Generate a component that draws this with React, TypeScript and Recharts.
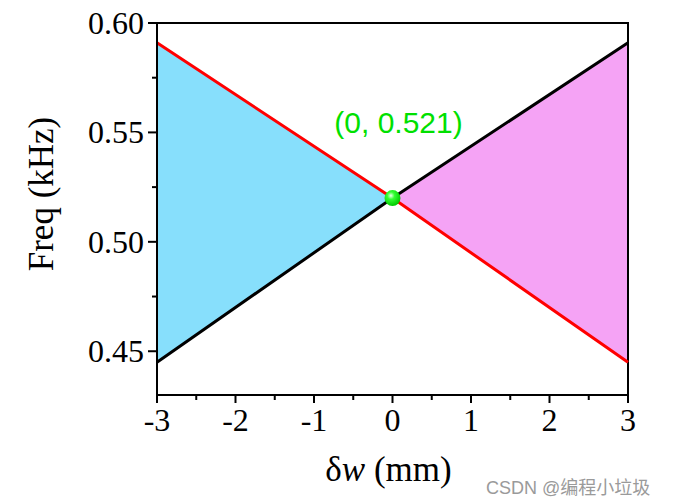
import * as React from "react";
import {
  Area,
  ComposedChart,
  Label,
  Line,
  ReferenceArea,
  ReferenceDot,
  XAxis,
  YAxis,
} from "recharts";

// Sampled off the figure: detuning δw (mm) and the two band frequencies (kHz).
const DW = [-3, 0, 3];
const RED_BAND = [0.591, 0.52, 0.445];
const BLACK_BAND = [0.445, 0.52, 0.591];
const X_TICKS = [-3, -2.5, -2, -1.5, -1, -0.5, 0, 0.5, 1, 1.5, 2, 2.5, 3];
const Y_TICKS = [0.45, 0.475, 0.5, 0.525, 0.55, 0.575, 0.6];
const DIRAC_X = 0;
const DIRAC_Y = 0.52;
const DIRAC_LABEL = "(0, 0.521)";

const data = DW.map((x, i) => ({
  x,
  red: RED_BAND[i],
  black: BLACK_BAND[i],
  blue: x <= 0 ? [BLACK_BAND[i], RED_BAND[i]] : null,
  pink: x >= 0 ? [RED_BAND[i], BLACK_BAND[i]] : null,
}));

const SERIF = "'Liberation Serif', 'Times New Roman', serif";
const SANS = "'Liberation Sans', Arial, sans-serif";

const isWhole = (v: number, step: number) => Math.abs(v / step - Math.round(v / step)) < 1e-6;

function YTick(props: any) {
  const { x, y, payload } = props;
  const major = isWhole(payload.value, 0.05);
  return (
    <g>
      <line x1={x - (major ? 9 : 5)} x2={x} y1={y} y2={y} stroke="#000" strokeWidth={2} />
      {major && (
        <text x={x - 13} y={y} dy={11} textAnchor="end" fontFamily={SERIF} fontSize={32} fill="#000">
          {payload.value.toFixed(2)}
        </text>
      )}
    </g>
  );
}

function XTick(props: any) {
  const { x, y, payload } = props;
  const major = isWhole(payload.value, 1);
  return (
    <g>
      <line x1={x} x2={x} y1={y} y2={y + (major ? 8 : 5)} stroke="#000" strokeWidth={2} />
      {major && (
        <text x={x} y={y + 36} textAnchor="middle" fontFamily={SERIF} fontSize={32} fill="#000">
          {String(payload.value)}
        </text>
      )}
    </g>
  );
}

function DiracDot(props: any) {
  const { cx, cy } = props;
  return (
    <g>
      <defs>
        <radialGradient id="dirac-fill" cx="40%" cy="35%" r="65%">
          <stop offset="0%" stopColor="#eaffea" />
          <stop offset="35%" stopColor="#33ff33" />
          <stop offset="100%" stopColor="#00c800" />
        </radialGradient>
      </defs>
      <circle cx={cx} cy={cy} r={8} fill="url(#dirac-fill)" />
    </g>
  );
}

export default function App() {
  return (
    <div style={{ position: "absolute", left: 0, top: 0, width: 673, height: 504, background: "#fff" }}>
      <ComposedChart
        width={673}
        height={504}
        data={data}
        margin={{ top: 23, right: 45, bottom: 69, left: 97 }}
      >
        <XAxis
          dataKey="x"
          type="number"
          domain={[-3, 3]}
          ticks={X_TICKS}
          interval={0}
          tickSize={0}
          tickMargin={0}
          tickLine={false}
          tick={<XTick />}
          height={40}
          axisLine={{ stroke: "#000", strokeWidth: 2 }}
        >
          <Label
            content={(p: any) => {
              const vb = p.viewBox;
              return (
                <text
                  x={vb.x + vb.width / 2 - 4}
                  y={vb.y + 86}
                  textAnchor="middle"
                  fontFamily={SERIF}
                  fontSize={35}
                  fill="#000"
                >
                  <tspan>δ</tspan>
                  <tspan fontStyle="italic">w</tspan>
                  <tspan> (mm)</tspan>
                </text>
              );
            }}
          />
        </XAxis>
        <YAxis
          type="number"
          domain={[0.43, 0.6]}
          ticks={Y_TICKS}
          interval={0}
          tickSize={0}
          tickMargin={0}
          tickLine={false}
          tick={<YTick />}
          width={60}
          axisLine={{ stroke: "#000", strokeWidth: 2 }}
        >
          <Label
            content={(p: any) => {
              const vb = p.viewBox;
              const cx = vb.x - 44;
              const cy = vb.y + vb.height / 2 - 15;
              return (
                <text
                  x={cx}
                  y={cy}
                  transform={`rotate(-90 ${cx} ${cy})`}
                  textAnchor="middle"
                  fontFamily={SERIF}
                  fontSize={35}
                  fill="#000"
                >
                  Freq (kHz)
                </text>
              );
            }}
          />
        </YAxis>
        <Area
          dataKey="blue"
          type="linear"
          fill="#87dffc"
          fillOpacity={1}
          stroke="none"
          isAnimationActive={false}
        />
        <Area
          dataKey="pink"
          type="linear"
          fill="#f5a3f5"
          fillOpacity={1}
          stroke="none"
          isAnimationActive={false}
        />
        <Line dataKey="black" type="linear" stroke="#000" strokeWidth={3} dot={false} isAnimationActive={false} />
        <Line dataKey="red" type="linear" stroke="#ff0000" strokeWidth={3} dot={false} isAnimationActive={false} />
        <ReferenceArea x1={-3} x2={3} y1={0.43} y2={0.6} fill="none" stroke="#000" strokeWidth={2} />
        <ReferenceDot x={DIRAC_X} y={DIRAC_Y} r={8} shape={<DiracDot />}>
          <Label
            content={(p: any) => {
              const vb = p.viewBox;
              const cx = vb.x + vb.width / 2;
              const cy = vb.y + vb.height / 2;
              return (
                <text x={cx + 6} y={cy - 65} textAnchor="middle" fontFamily={SANS} fontSize={30} fill="#00e000">
                  {DIRAC_LABEL}
                </text>
              );
            }}
          />
        </ReferenceDot>
      </ComposedChart>
      <div
        style={{
          position: "absolute",
          left: 486,
          top: 473,
          fontFamily: "'Liberation Sans', 'Noto Sans CJK SC', sans-serif",
          fontSize: 18,
          color: "#9a9a9a",
          whiteSpace: "nowrap",
        }}
      >
        CSDN @编程小垃圾
      </div>
    </div>
  );
}
